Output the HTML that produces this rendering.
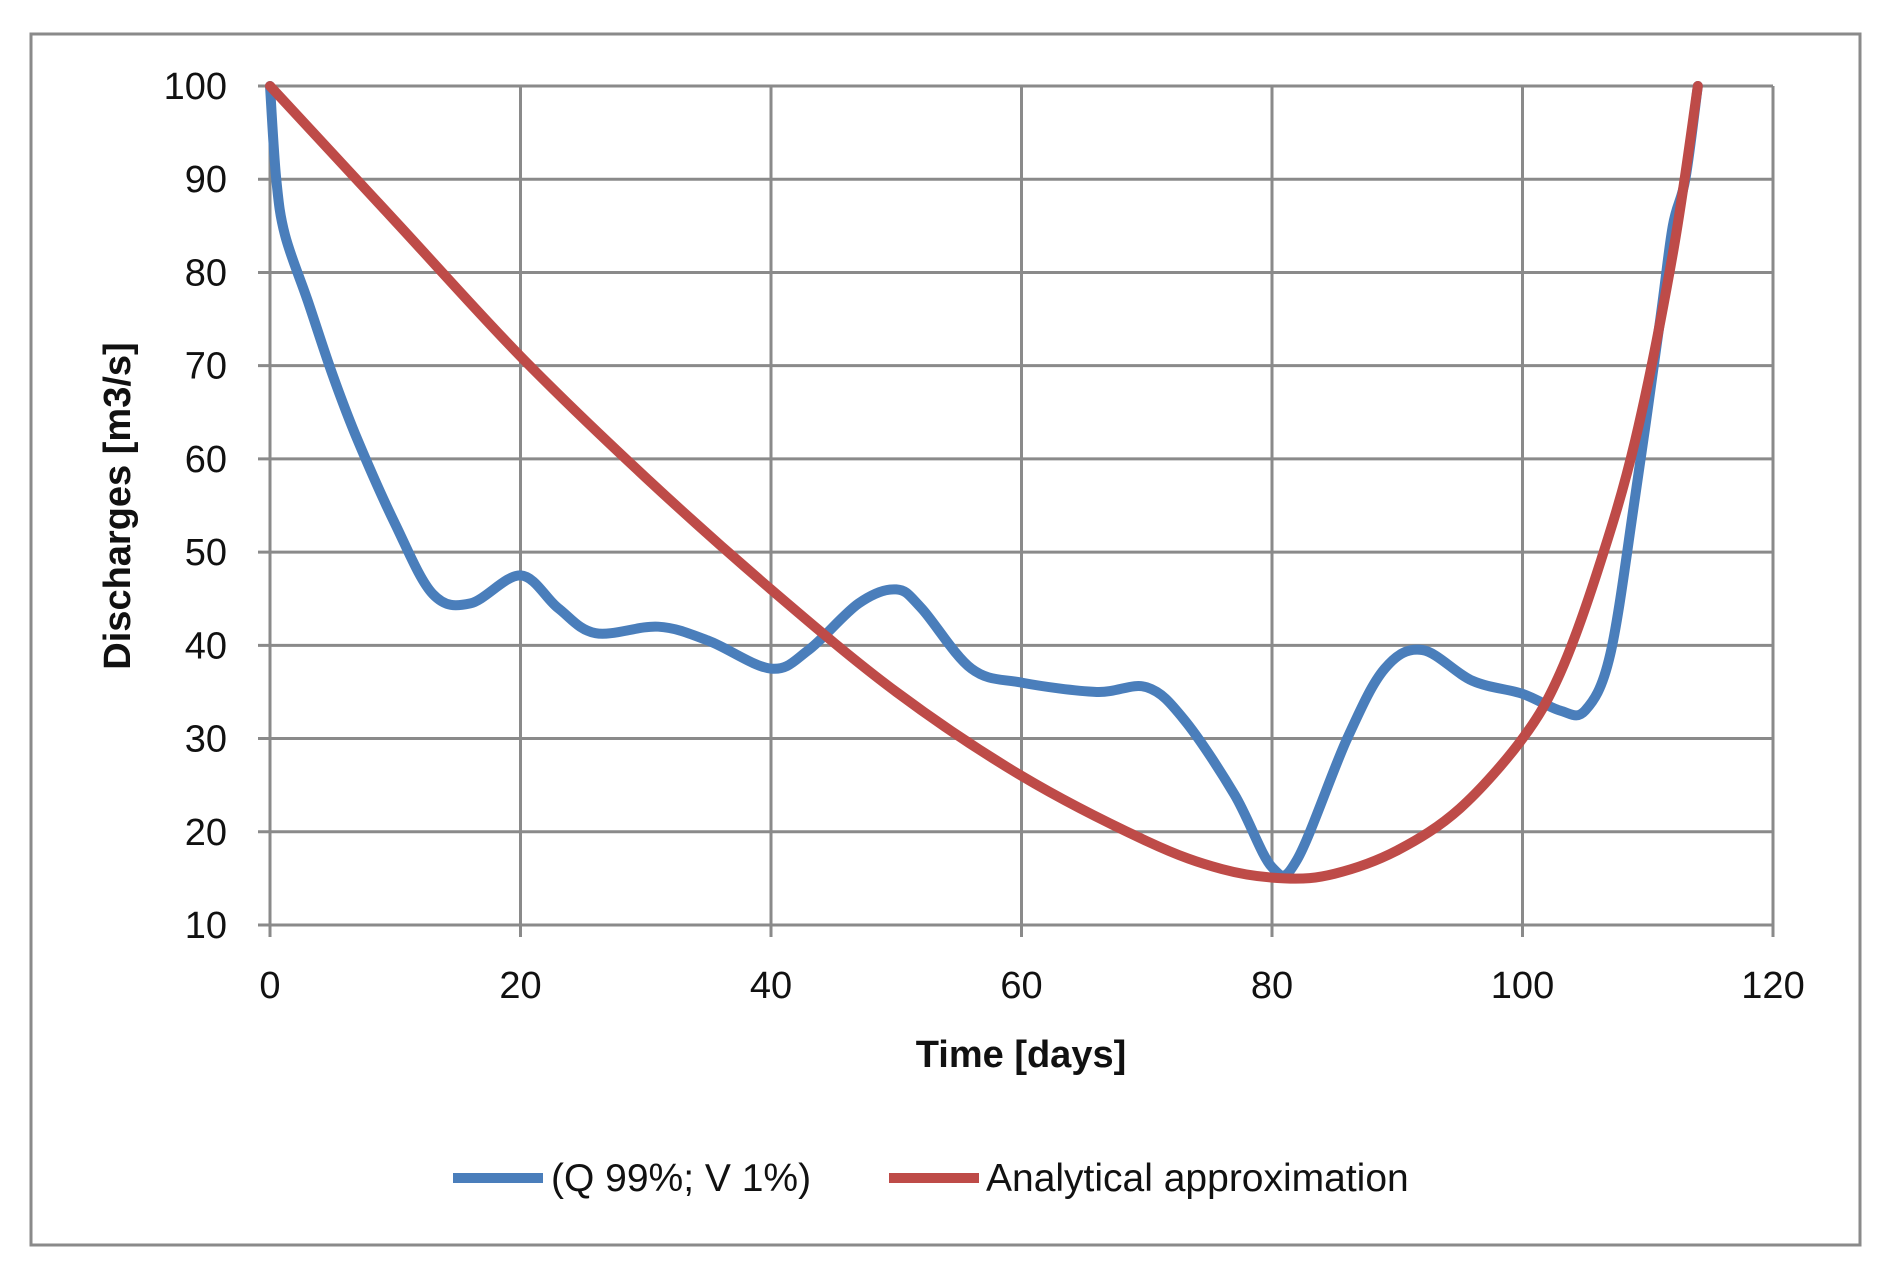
<!DOCTYPE html>
<html><head><meta charset="utf-8"><style>
body{margin:0;background:#fff}
svg{display:block}
text{font-family:"Liberation Sans",sans-serif;fill:#111}
</style></head><body>
<svg id="s" width="1888" height="1277" xmlns="http://www.w3.org/2000/svg">
<rect x="31" y="34" width="1829" height="1211" fill="#fff" stroke="#8a8a8a" stroke-width="3"/>
<g id="grid" stroke="#8a8a8a" stroke-width="3"></g>
<g id="lab" font-size="38"></g>
<text x="1021" y="1067" font-size="38" font-weight="bold" text-anchor="middle">Time [days]</text>
<text transform="translate(130,506) rotate(-90)" font-size="38" font-weight="bold" text-anchor="middle">Discharges [m3/s]</text>
<path id="blue" fill="none" stroke="#4a7ebb" stroke-width="10" stroke-linejoin="round" stroke-linecap="round"/>
<path id="red" fill="none" stroke="#be4b48" stroke-width="10" stroke-linejoin="round" stroke-linecap="round"/>
<line x1="453" y1="1178" x2="543" y2="1178" stroke="#4a7ebb" stroke-width="10"/>
<text x="551" y="1191" font-size="39">(Q 99%; V 1%)</text>
<line x1="889" y1="1178" x2="979" y2="1178" stroke="#be4b48" stroke-width="10"/>
<text x="986" y="1191" font-size="39">Analytical approximation</text>
</svg>
<script>
const X=d=>270+d*(1773-270)/120, Y=v=>925-(v-10)*(925-86)/90;
const g=document.getElementById('grid'),l=document.getElementById('lab');
let h='',t='';
for(let v=10;v<=100;v+=10){h+=`<line x1="258" x2="1773" y1="${Y(v)}" y2="${Y(v)}"/>`;t+=`<text x="227" y="${Y(v)+13}" text-anchor="end">${v}</text>`;}
for(let d=0;d<=120;d+=20){h+=`<line x1="${X(d)}" x2="${X(d)}" y1="86" y2="937"/>`;t+=`<text x="${X(d)}" y="998" text-anchor="middle">${d}</text>`;}
g.innerHTML=h;l.innerHTML=t;
function cr(p){p=p.map(a=>[X(a[0]),Y(a[1])]);let s=`M${p[0][0]},${p[0][1]}`;
for(let i=0;i<p.length-1;i++){const a=p[Math.max(0,i-1)],b=p[i],c=p[i+1],d=p[Math.min(p.length-1,i+2)];
s+=` C${b[0]+(c[0]-a[0])/6},${b[1]+(c[1]-a[1])/6} ${c[0]-(d[0]-b[0])/6},${c[1]-(d[1]-b[1])/6} ${c[0]},${c[1]}`;}return s;}
document.getElementById('blue').setAttribute('d',cr([[0,100],[0.5,90],[1.2,84],[3,77],[5,69],[7,62],[10,53],[13,45.5],[16,44.5],[20,47.5],[23,44],[26,41.3],[31,42],[35,40.5],[40,37.5],[43,39.5],[47,44.5],[50,46],[52,44],[56,37.5],[60,36],[66,35],[70,35.5],[73,32],[77,24],[80,16.2],[82,17],[86,30],[89,37.5],[92,39.5],[96,36.2],[100,34.8],[103,33],[105,33],[107,39],[109,56],[111,75],[112,85],[113,90],[114,100]]));
document.getElementById('red').setAttribute('d',cr([[0,100],[10,85.5],[20,71],[30,58],[40,46],[50,35],[60,26],[70,19],[76,16],[81,15],[85,15.5],[90,18],[95,22.5],[100,30],[103,37],[106,48],[109,62],[112,82],[114,100]]));
</script>
</body></html>
